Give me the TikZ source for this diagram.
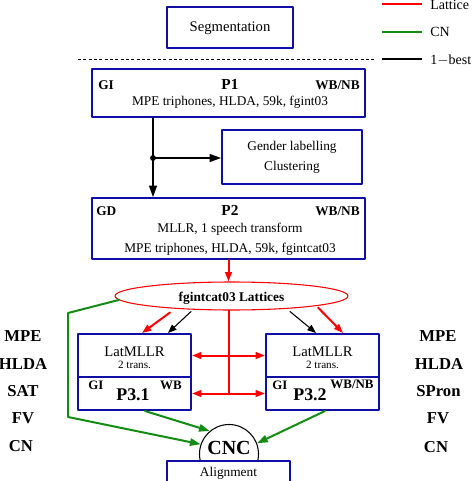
\documentclass[tikz,border=0pt]{standalone}
\usepackage{fontspec}
\setmainfont{Liberation Serif}
\usetikzlibrary{arrows.meta,positioning,shapes.geometric,fit,calc}
\definecolor{boxblue}{RGB}{15,15,165}
\definecolor{cngreen}{RGB}{20,140,20}

\begin{document}
\begin{tikzpicture}[x=0.75pt,y=-0.75pt,>={Triangle[length=7pt,width=5pt]},line cap=round,line join=round,
  box/.style={draw=boxblue,line width=1.5pt,fill=white,inner sep=0pt},
  txt/.style={font=\fontsize{10}{12}\selectfont,inner sep=0pt},
  small/.style={font=\fontsize{8.4}{10}\selectfont,inner sep=0pt},
  tag/.style={font=\bfseries\fontsize{10}{12}\selectfont,inner sep=0pt},
  ptitle/.style={font=\bfseries\fontsize{11.5}{13}\selectfont,inner sep=0pt},
  pbig/.style={font=\bfseries\fontsize{13.4}{15}\selectfont,inner sep=0pt},
  side/.style={font=\bfseries\fontsize{12.5}{14}\selectfont,inner sep=0pt},
  latline/.style={red,line width=1.5pt},
  cnline/.style={cngreen,line width=1.5pt},
  bestline/.style={black,line width=0.8pt}]
  % page
  \useasboundingbox (0,0) rectangle (474,481);
  \fill[white] (0,0) rectangle (474,481);
  \clip (0,0) rectangle (474,481);

  % legend
  \node[txt,anchor=base west,font=\fontsize{10.5}{12}\selectfont] (leglat) at (430,9.5) {Lattice};
  \node[txt,anchor=base west,font=\fontsize{10.5}{12}\selectfont] (legcn) at (430,37) {CN};
  \node[txt,anchor=base west,font=\fontsize{10.5}{12}\selectfont] (legbest) at (430,64.5) {1$-$best};
  \draw[latline,line cap=butt] (382,4) -- (422,4);
  \draw[cnline,line cap=butt] (382,32) -- (422,32);
  \draw[bestline,line width=1.5pt,line cap=butt] (382,59) -- (422,59);
  \draw[line width=0.6pt,line cap=butt,dash pattern=on 2.2pt off 1.8pt] (78,59) -- (375,59);

  % boxes
  \node[box,fit={(167,7) (293,48)}] (seg) {};
  \node[txt,anchor=base,font=\fontsize{11}{13}\selectfont] (segtxt) at (230,31.7) {Segmentation};

  \node[box,fit={(92,69) (365,117)}] (p1) {};
  \node[tag,anchor=base west] (p1gi) at (98,90) {GI};
  \node[ptitle,anchor=base] (p1name) at (230,90) {P1};
  \node[tag,anchor=base east] (p1wb) at (360,90) {WB/NB};
  \node[txt,anchor=base] (p1desc) at (230,106) {MPE triphones, HLDA, 59k, fgint03};

  \node[box,fit={(222,130) (362,184)}] (gender) {};
  \node[txt,anchor=base] (gendtxt) at (292,150.7) {Gender labelling};
  \node[txt,anchor=base] (clustxt) at (292,170.5) {Clustering};

  \node[box,fit={(92,198) (365,259)}] (p2) {};
  \node[tag,anchor=base west] (p2gd) at (96,215) {GD};
  \node[ptitle,anchor=base] (p2name) at (230,215) {P2};
  \node[tag,anchor=base east] (p2wb) at (360,215) {WB/NB};
  \node[txt,anchor=base] (p2desca) at (230,232.7) {MLLR, 1 speech transform};
  \node[txt,anchor=base] (p2descb) at (230,252.7) {MPE triphones, HLDA, 59k, fgintcat03};

  \node[ellipse,draw=red,line width=0.8pt,fill=white,minimum width=174.75pt,minimum height=21pt,inner sep=0pt] (lat) at (231.5,296) {};
  \node[tag,anchor=base] (lattxt) at (231.5,301) {fgintcat03 Lattices};

  \node[box,fit={(78,334) (191,377)}] (p31top) {};
  \node[box,fit={(78,377) (191,410)}] (p31bot) {};
  \node[txt,anchor=base,font=\fontsize{11}{13}\selectfont] (p31lat) at (134.5,356) {LatMLLR};
  \node[small,anchor=base] (p31tr) at (134.5,368) {2 trans.};
  \node[tag,anchor=base west,font=\bfseries\fontsize{9.7}{11}\selectfont] (p31gi) at (88,389) {GI};
  \node[pbig,anchor=base] (p31name) at (133,400) {P3.1};
  \node[tag,anchor=base,font=\bfseries\fontsize{9.7}{11}\selectfont] (p31wb) at (171,389) {WB};

  \node[box,fit={(266,334) (379,377)}] (p32top) {};
  \node[box,fit={(266,377) (379,410)}] (p32bot) {};
  \node[txt,anchor=base,font=\fontsize{11}{13}\selectfont] (p32lat) at (322.5,356) {LatMLLR};
  \node[small,anchor=base] (p32tr) at (322.5,368) {2 trans.};
  \node[tag,anchor=base west,font=\bfseries\fontsize{9.7}{11}\selectfont] (p32gi) at (272,389) {GI};
  \node[pbig,anchor=base] (p32name) at (310,400) {P3.2};
  \node[tag,anchor=base,font=\bfseries\fontsize{9.7}{11}\selectfont] (p32wb) at (352,388.5) {WB/NB};

  % combination
  \node[circle,draw,line width=0.8pt,fill=white,minimum size=44.25pt,inner sep=0pt] (cnc) at (229,454) {};
  \node[anchor=base,inner sep=0pt,font=\bfseries\fontsize{15}{17}\selectfont] (cnctxt) at (229,454) {CNC};
  \node[box,fit={(167,461) (290,500)}] (align) {};
  \node[txt,anchor=base] (aligntxt) at (228.5,476.7) {Alignment};

  % system labels
  \node[side,anchor=base] (lmpe) at (23,341.7) {MPE};
  \node[side,anchor=base] (lhlda) at (23,369) {HLDA};
  \node[side,anchor=base] (lsat) at (23,396) {SAT};
  \node[side,anchor=base] (lfv) at (23,423) {FV};
  \node[side,anchor=base] (lcn) at (21,451) {CN};
  \node[side,anchor=base] (rmpe) at (438,341.7) {MPE};
  \node[side,anchor=base] (rhlda) at (439,369) {HLDA};
  \node[side,anchor=base] (rspron) at (438.5,396) {SPron};
  \node[side,anchor=base] (rfv) at (438,423) {FV};
  \node[side,anchor=base] (rcn) at (436,452) {CN};

  % 1-best
  \coordinate (split) at (153,158);
  \draw[bestline] (p1.south -| split) -- (split);
  \draw[bestline,-{Triangle[length=8.5pt,width=6pt]}] (split) -- (gender.west |- split);
  \draw[bestline,-{Triangle[length=8.5pt,width=6pt]}] (split) -- (split |- p2.north);
  \fill (split) circle (2.2pt);
  \draw[bestline,-{Triangle[length=6.5pt,width=5pt]}] ($(lat.south)+(-40.5,1)$) -- ($(p31top.north)+(33.5,0)$);
  \draw[bestline,-{Triangle[length=6.5pt,width=5pt]}] ($(lat.south)+(58.5,1)$) -- ($(p32top.north)+(-6.5,0)$);

  % lattices
  \draw[latline,->] (p2.south) -- (p2.south |- lat.north);
  \draw[latline,->] ($(lat.south)+(-61.5,2)$) -- ($(p31top.north)+(7.5,0)$);
  \draw[latline,->] ($(lat.south)+(86.5,-3)$) -- ($(p32top.north)+(20.5,0)$);
  \draw[latline] (p2.south |- lat.south) -- (p2.south |- p31bot.east);
  \draw[latline,<->] (p31top.east) -- (p32top.west);
  \draw[latline,<->] (p31bot.east) -- (p32bot.west);

  % confusion networks
  \coordinate (cnbend1) at (68,313);
  \coordinate (cnbend2) at (68,417);
  \draw[cnline,-{Triangle[length=8pt,width=5.5pt]}] (lat.182) -- (cnbend1) -- (cnbend2) -- (cnc.161);
  \draw[cnline,-{Triangle[length=8pt,width=5.5pt]}] ($(p31bot.south)+(10.5,0)$) -- (cnc.130);
  \draw[cnline,-{Triangle[length=8pt,width=5.5pt]}] ($(p32bot.south)+(2.5,0)$) -- (cnc.21);
\end{tikzpicture}
\end{document}
